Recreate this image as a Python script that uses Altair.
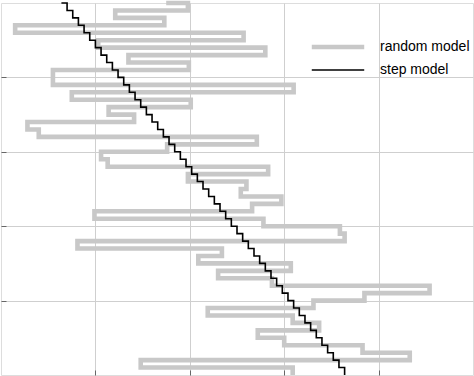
import altair as alt
import pandas as pd

# time steps (rows, top to bottom)
levels = list(range(51))

# position of the "random model" path at each time step
random_x = [17.5, 19.8, 12.1, 17.3, 1.5, 25.7, 10.3, 28.0, 13.5, 19.9,
            5.5, 5.5, 31.0, 7.5, 20.1, 11.4, 14.1, 2.8, 4.0, 27.1,
            17.6, 10.6, 11.3, 28.3, 19.8, 26.0, 25.4, 29.7, 26.6, 9.9,
            27.8, 35.9, 36.4, 8.1, 23.4, 20.9, 30.7, 23.0, 28.7, 45.4,
            38.5, 33.1, 21.9, 30.9, 33.7, 27.2, 30.0, 38.3, 43.3, 14.8,
            30.9]

# position of the "step model" staircase at each time step
step_x = [6.4, 7.0, 7.6, 8.2, 8.8, 9.4, 10.0, 10.6, 11.2, 11.8,
          12.4, 13.0, 13.6, 14.2, 14.8, 15.4, 16.0, 16.6, 17.2, 17.8,
          18.4, 19.0, 19.6, 20.2, 20.8, 21.4, 22.0, 22.6, 23.2, 23.8,
          24.4, 25.0, 25.6, 26.2, 26.8, 27.4, 28.0, 28.6, 29.2, 29.8,
          30.4, 31.0, 31.6, 32.2, 32.8, 33.4, 34.0, 34.6, 35.2, 35.8,
          36.4]

series_names = ["random model", "step model"]
series_colors = ["#c8c8c8", "#000000"]
series_widths = [4.6, 1.6]

grid_values = [10, 20, 30, 40]

df = pd.DataFrame({
    "series": [series_names[0]] * len(random_x) + [series_names[1]] * len(step_x),
    "t": levels + levels,
    "x": random_x + step_x,
})

legend_kw = dict(
    orient="none", legendX=308, legendY=37, title=None,
    symbolType="stroke", symbolSize=2750, symbolOffset=0,
    labelFontSize=14, labelFont="Liberation Sans", labelColor="#000000",
    labelOffset=13, rowPadding=9, clipHeight=14, padding=0,
)

chart = alt.Chart(df).mark_line(
    interpolate="step-after", strokeJoin="miter", strokeCap="butt"
).encode(
    x=alt.X("x:Q",
            scale=alt.Scale(domain=[0, 50], nice=False, zero=False),
            axis=alt.Axis(values=grid_values, labels=False, domain=False,
                          ticks=True, tickSize=5, tickColor="#666666",
                          offset=-5, grid=True, gridColor="#cfcfcf",
                          gridWidth=1, title=None)),
    y=alt.Y("t:Q",
            scale=alt.Scale(domain=[0, 50], nice=False, zero=False, reverse=True),
            axis=alt.Axis(values=grid_values, labels=False, domain=False,
                          ticks=True, tickSize=5, tickColor="#666666",
                          offset=-5, grid=True, gridColor="#cfcfcf",
                          gridWidth=1, title=None)),
    color=alt.Color("series:N",
                    scale=alt.Scale(domain=series_names, range=series_colors),
                    legend=alt.Legend(**legend_kw)),
    strokeWidth=alt.StrokeWidth("series:N",
                                scale=alt.Scale(domain=series_names, range=series_widths),
                                legend=alt.Legend(**legend_kw)),
    order=alt.Order("t:Q"),
).properties(
    width=472,
    height=372,
    autosize=alt.AutoSizeParams(type="none"),
    padding={"left": 1, "top": 3, "right": 1, "bottom": 1},
).configure_view(
    stroke="#999999", strokeWidth=1
).configure(
    font="Liberation Sans", background="white"
)

chart.save("out.html", embed_options={"renderer": "svg", "actions": False})
